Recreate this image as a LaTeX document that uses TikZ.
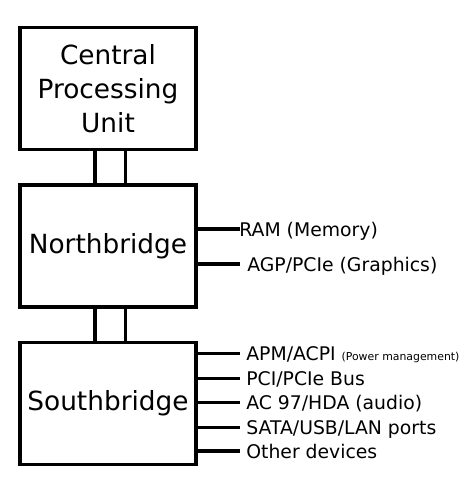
\documentclass[tikz,border=0pt]{standalone}
\usepackage{fontspec}
\setmainfont{DejaVu Sans}
\begin{document}
\begin{tikzpicture}[x=0.02cm,y=-0.02cm,
  chip/.style={draw,line width=2pt,minimum width=3.52cm,minimum height=2.44cm,inner sep=0pt,align=center,font=\fontsize{15}{19.4}\selectfont},
  bus/.style={line width=2pt},
  port/.style={anchor=base west,inner sep=0pt,font=\fontsize{10.7}{12}\selectfont}]
\useasboundingbox (0,0) rectangle (474,493);
\pgfmathsetmacro{\kbx}{108}
\pgfmathsetmacro{\kend}{240}
\pgfmathsetmacro{\kcap}{7}
\node[chip](cpu) at (\kbx,88.5){Central\\Processing\\Unit};
\node[chip](nb) at (\kbx,246){Northbridge};
\node[chip](sb) at (\kbx,403.5){Southbridge};
\foreach \kx/\kn in {95/l,125.7/r}{\coordinate (k\kn) at (\kx,0);}
\foreach \kn in {l,r}{
  \draw[bus] (cpu.south -| k\kn) -- (nb.north -| k\kn);
  \draw[bus] (nb.south -| k\kn) -- (sb.north -| k\kn);
}
%\draw[bus] (nb.east) -- ++(44,0);
\foreach \ky/\kxo/\klb/\kn in {229/239/{RAM (Memory)}/ram,264/247/{AGP/PCIe (Graphics)}/agp}{
  \coordinate (\kn-end) at (\kend,\ky);
  \draw[bus] (nb.east |- \kn-end) -- (\kn-end);
  \node[port](\kn) at (\kxo,\ky+\kcap){\klb};
}
\foreach \ky/\klb/\kn in {353.5/{APM/ACPI {\fontsize{6.2}{7}\selectfont(Power management)}}/apm,378.5/{PCI/PCIe Bus}/pci,402.5/{AC 97/HDA (audio)}/ac,427.5/{SATA/USB/LAN ports}/sata,451/{Other devices}/oth}{
  \coordinate (\kn-end) at (\kend,\ky);
  \draw[bus] (sb.east |- \kn-end) -- (\kn-end);
  \node[port](\kn) at (246,\ky+\kcap){\klb};
}
\end{tikzpicture}
\end{document}
